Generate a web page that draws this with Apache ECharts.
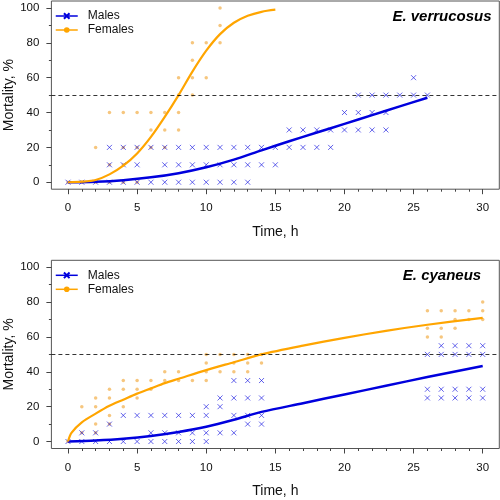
<!DOCTYPE html>
<html>
<head>
<meta charset="utf-8">
<script src="https://cdn.jsdelivr.net/npm/echarts/dist/echarts.min.js"></script>
<style>
  html, body { margin: 0; padding: 0; background: #fff; }
  #chart { width: 500px; height: 500px; }
</style>
</head>
<body>
<div id="chart"></div>
<script>
// axis ticks
var xTicks = [0, 5, 10, 15, 20, 25, 30];
var xMinor = [0,1,2,3,4,5,6,7,8,9,10,11,12,13,14,15,16,17,18,19,20,21,22,23,24,25,26,27,28,29,30];
var yTicks = [0, 20, 40, 60, 80, 100];
var yMinor = [10, 30, 50, 70, 90];

// E. verrucosus, observed mortality [time, %]
var verrMales = [
  [0,0],[1,0],[2,0],[3,0],[4,0],[5,0],[6,0],[7,0],[8,0],[9,0],[10,0],[11,0],[12,0],[13,0],
  [3,10],[4,10],[5,10],[7,10],[8,10],[9,10],[10,10],[11,10],[12,10],[13,10],[14,10],[15,10],
  [3,20],[4,20],[5,20],[6,20],[7,20],[8,20],[9,20],[10,20],[11,20],[12,20],[13,20],[14,20],
  [15,20],[16,20],[17,20],[18,20],[19,20],
  [16,30],[17,30],[18,30],[19,30],[20,30],[21,30],[22,30],[23,30],
  [20,40],[21,40],[22,40],[23,40],
  [21,50],[22,50],[23,50],[24,50],[25,50],[26,50],
  [25,60]
];
var verrFemales = [
  [0,0],[1,0],[2,0],[3,0],[4,0],[5,0],
  [3,10],[4,10],
  [2,20],[4,20],[5,20],[6,20],[7,20],
  [6,30],[7,30],[8,30],
  [3,40],[4,40],[5,40],[6,40],[7,40],[8,40],
  [8,50],[9,50],
  [8,60],[9,60],[10,60],
  [9,70],
  [9,80],[10,80],[11,80],
  [11,90],[11,100]
];
// fitted curves
var verrMaleFit = [[0,0],[2,0.3],[4,1.2],[6,2.8],[8,5.2],[10,8.6],[12,13],[14,18.3],
  [16,23.5],[18,28.5],[20,33.5],[22,38.5],[24,43.5],[26,48.5]];
var verrFemaleFit = [[0,0],[1,0.3],[2,1.3],[3,4.5],[4,9.5],[5,16.5],[6,26],[7,37.5],[8,50],
  [9,63.5],[10,75.5],[11,85],[12,91.5],[13,95.5],[14,97.8],[15,99]];

// E. cyaneus, observed mortality [time, %]
var cyanMales = [
  [0,0],[1,0],[2,0],[3,0],[4,0],[5,0],[6,0],[7,0],[8,0],[9,0],[10,0],
  [1,5],[2,5],[6,5],[7,5],[8,5],[9,5],[10,5],[11,5],[12,5],
  [3,10],[13,10],[14,10],
  [4,15],[5,15],[6,15],[7,15],[8,15],[9,15],[10,15],[12,15],[13,15],[14,15],
  [10,20],[11,20],
  [11,25],[12,25],[13,25],[14,25],
  [12,35],[13,35],[14,35],
  [26,25],[26,30],[26,50],
  [27,25],[27,30],[27,50],[27,55],
  [28,25],[28,30],[28,50],[28,55],
  [29,25],[29,30],[29,50],[29,55],
  [30,25],[30,30],[30,50],[30,55]
];
var cyanFemales = [
  [0,0],
  [1,5],[1,20],
  [2,5],[2,10],[2,20],[2,25],
  [3,10],[3,15],[3,25],[3,30],
  [4,20],[4,30],[4,35],
  [5,25],[5,30],[5,35],
  [6,30],[6,35],
  [7,35],[7,40],
  [8,35],[8,40],
  [9,35],
  [10,35],[10,40],[10,45],[10,50],
  [11,40],[11,50],
  [12,40],[12,45],[12,50],
  [13,40],[13,45],[13,50],
  [14,45],[14,50],
  [26,60],[26,65],[26,75],
  [27,60],[27,65],[27,75],
  [28,65],[28,70],[28,75],
  [29,70],[29,75],
  [30,70],[30,75],[30,80]
];
var cyanMaleFit = [[0,0],[2,0.6],[4,1.6],[6,3.2],[8,5.5],[10,8.5],[12,12.5],[14,17],
  [17,22],[20,27],[23,32],[26,37],[30,43.4]];
var cyanFemaleFit = [[0,0],[0.25,5],[1,11],[2,16],[3,20.5],[4,24],[5,27.5],[6,30.5],[7,33.5],
  [8,36],[10,41],[12,45.5],[14,50],[17,55],[20,59.5],[23,63.5],[26,67],[30,71]];

var titles = ['E. verrucosus', 'E. cyaneus'];

var FONT = '"Liberation Sans", Arial, sans-serif';
var BLUE = '#0000dd';
var ORANGE = '#ffa500';
var CROSS = 'path://M0,0L10,10M10,0L0,10';
var tops = [1, 260.3];

var chart = echarts.init(document.getElementById('chart'));

function xAxes(g) {
  return [{
    type: 'value', gridIndex: g, min: -1.2, max: 31.2, position: 'bottom',
    axisLine: { show: false, onZero: false }, splitLine: { show: false },
    axisTick: { customValues: xTicks, length: 5, lineStyle: { color: '#444' } },
    axisLabel: { customValues: xTicks, margin: 13, fontSize: 11.5, color: '#111', fontFamily: FONT },
    name: 'Time, h', nameLocation: 'middle', nameGap: 36, nameMoveOverlap: false,
    nameTextStyle: { fontSize: 14, color: '#111', fontFamily: FONT }
  }, {
    type: 'value', gridIndex: g, min: -1.2, max: 31.2, position: 'bottom',
    axisLine: { show: false, onZero: false }, splitLine: { show: false }, axisLabel: { show: false },
    axisTick: { customValues: xMinor, length: 2.5, lineStyle: { color: '#444' } }
  }];
}

function yAxes(g) {
  return [{
    type: 'value', gridIndex: g, min: -4, max: 104, position: 'left',
    axisLine: { show: false, onZero: false }, splitLine: { show: false },
    axisTick: { customValues: yTicks, length: 5, lineStyle: { color: '#444' } },
    axisLabel: { customValues: yTicks, margin: 12, fontSize: 11.5, color: '#111', fontFamily: FONT },
    name: 'Mortality, %', nameLocation: 'middle', nameGap: 35, nameMoveOverlap: false,
    nameTextStyle: { fontSize: 14, color: '#111', fontFamily: FONT }
  }, {
    type: 'value', gridIndex: g, min: -4, max: 104, position: 'left',
    axisLine: { show: false, onZero: false }, splitLine: { show: false }, axisLabel: { show: false },
    axisTick: { customValues: yMinor, length: 2.5, lineStyle: { color: '#444' } }
  }];
}

function panelSeries(g, males, females, maleFit, femaleFit) {
  var ax = g * 2;
  return [{
    type: 'scatter', xAxisIndex: ax, yAxisIndex: ax, data: females,
    symbol: 'circle', symbolSize: 3.5, silent: true,
    itemStyle: { color: 'rgba(240,160,40,0.75)' }
  }, {
    type: 'scatter', xAxisIndex: ax, yAxisIndex: ax, data: males,
    symbol: CROSS, symbolSize: 5, silent: true,
    itemStyle: { color: 'rgba(0,0,0,0)', borderColor: 'rgba(30,30,225,0.85)', borderWidth: 1 }
  }, {
    name: 'Males', type: 'line', xAxisIndex: ax, yAxisIndex: ax, data: maleFit,
    smooth: 0.3, showSymbol: false, symbol: CROSS, silent: true,
    itemStyle: { color: 'rgba(0,0,0,0)', borderColor: BLUE, borderWidth: 1.3 },
    lineStyle: { color: BLUE, width: 2.5 },
    markLine: {
      silent: true, symbol: 'none', label: { show: false },
      lineStyle: { color: '#000', type: [4, 3], width: 0.8 },
      data: [{ yAxis: 50 }]
    }
  }, {
    name: 'Females', type: 'line', xAxisIndex: ax, yAxisIndex: ax, data: femaleFit,
    smooth: 0.3, showSymbol: false, symbol: 'circle', silent: true,
    itemStyle: { color: ORANGE },
    lineStyle: { color: ORANGE, width: 2.2 }
  }];
}

var option = {
  animation: false,
  textStyle: { fontFamily: FONT },
  grid: tops.map(function (t) {
    return { left: 51.4, right: 0.7, top: t, height: 188.2, show: true,
      containLabel: false, outerBoundsMode: 'none',
      borderColor: '#555', borderWidth: 1, backgroundColor: 'rgba(0,0,0,0)' };
  }),
  xAxis: xAxes(0).concat(xAxes(1)),
  yAxis: yAxes(0).concat(yAxes(1)),
  legend: tops.map(function (t) {
    return {
      orient: 'vertical', left: 55, top: t + 9, padding: 0,
      itemWidth: 22, itemHeight: 7, itemGap: 2,
      textStyle: { fontSize: 12, color: '#111', fontFamily: FONT, padding: [0, 0, 0, 5] },
      selectedMode: false,
      data: [
        { name: 'Males', lineStyle: { width: 1.5 } },
        { name: 'Females', lineStyle: { width: 1.5 } }
      ]
    };
  }),
  graphic: titles.map(function (t, i) {
    return {
      type: 'text', x: 442, y: tops[i] + 16,
      style: { text: t, font: 'italic bold 15px ' + FONT, fill: '#000',
        textAlign: 'center', textVerticalAlign: 'middle', align: 'center', verticalAlign: 'middle' }
    };
  }),
  series: panelSeries(0, verrMales, verrFemales, verrMaleFit, verrFemaleFit)
    .concat(panelSeries(1, cyanMales, cyanFemales, cyanMaleFit, cyanFemaleFit))
};

chart.setOption(option);
</script>
</body>
</html>
